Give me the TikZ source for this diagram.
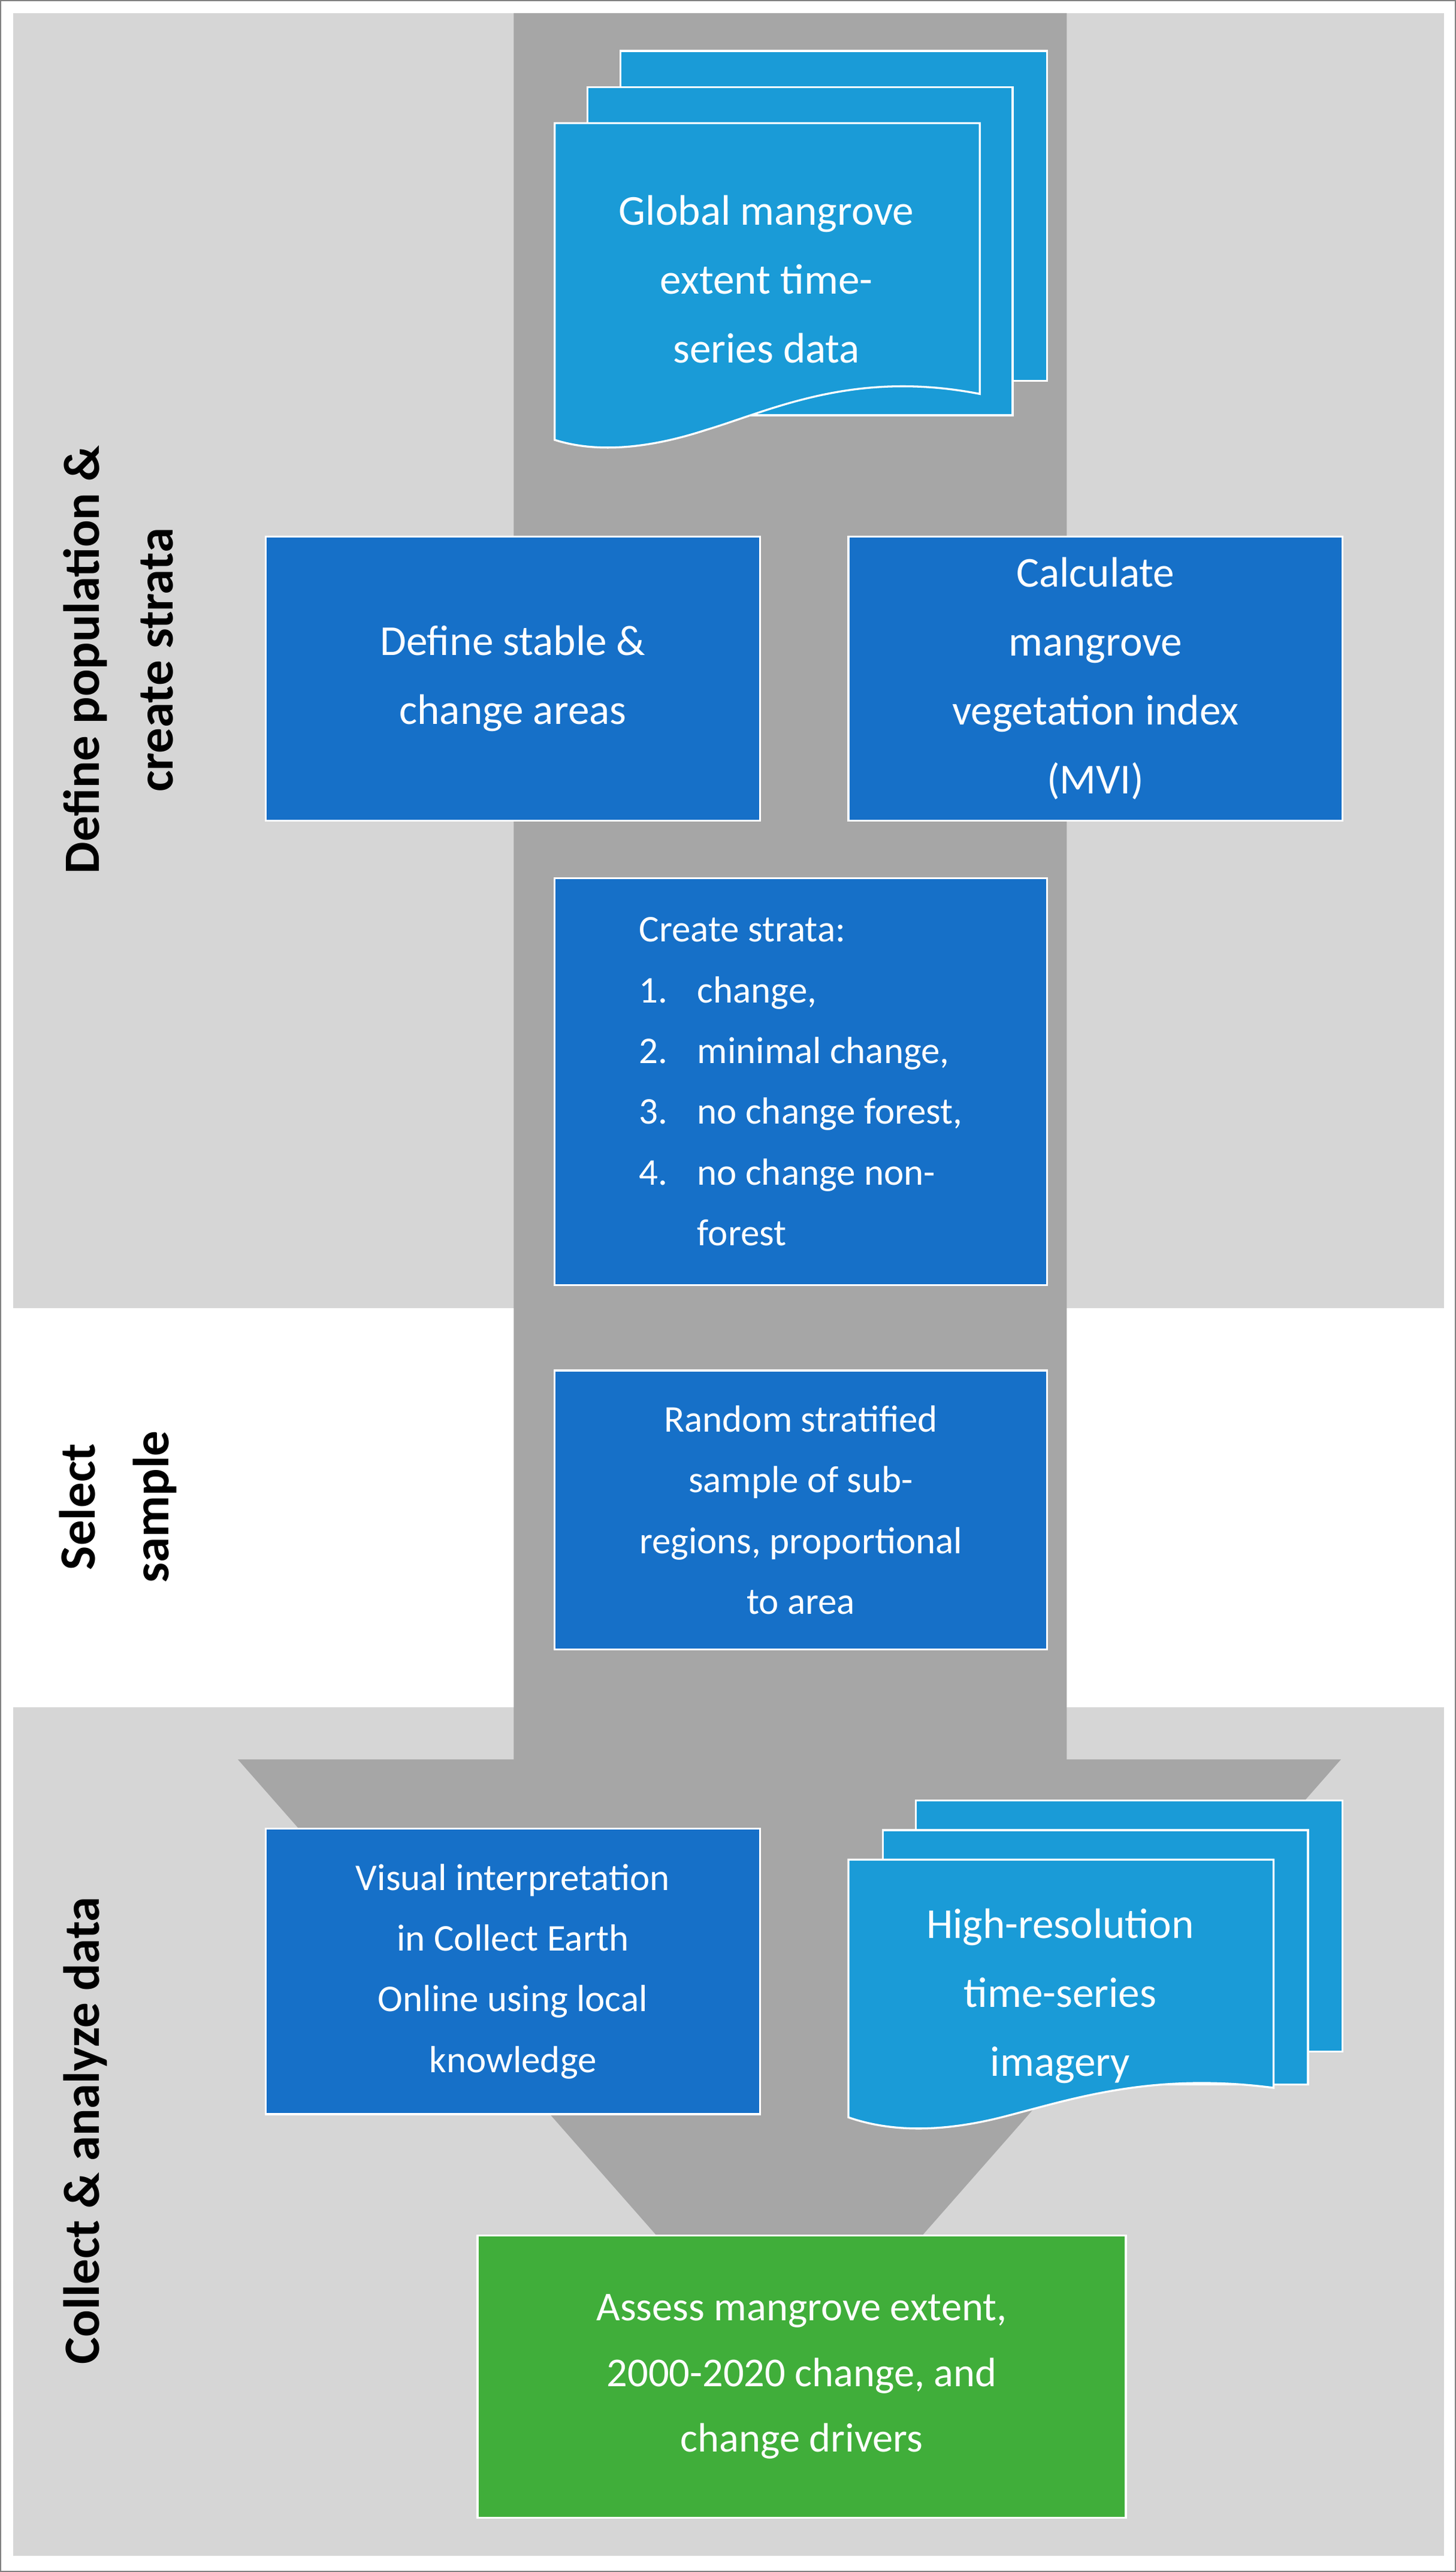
\documentclass[tikz,border=0pt]{standalone}
\usepackage{fontspec}
\setmainfont{Carlito}
\definecolor{bandgray}{HTML}{D6D6D6}
\definecolor{arrowgray}{HTML}{A6A6A6}
\definecolor{dblue}{HTML}{1670C8}
\definecolor{lblue}{HTML}{1A9BD7}
\definecolor{mgreen}{HTML}{40AE3A}
\begin{document}
\begin{tikzpicture}[x=1pt,y=-1pt,
  box/.style={draw=white,line width=1.2pt,fill=dblue,text=white,align=center,inner sep=0pt},
  doc/.style={draw=white,line width=1.2pt,fill=lblue},
  side/.style={rotate=90,font=\fontsize{31}{45}\selectfont\bfseries,align=center},
  btxt/.style={text=white,align=center,font=\fontsize{26}{42}\selectfont}]
\useasboundingbox (0,0) rectangle (887,1567);
\fill[white] (0,0) rectangle (887,1567);
\fill[bandgray] (8,8) rectangle (880,797);
\fill[bandgray] (8,1040) rectangle (880,1557);
% big arrow
\fill[arrowgray] (313,8) -- (650,8) -- (650,1072) -- (817,1072) -- (481,1454) -- (145,1072) -- (313,1072) -- cycle;
% top document stack
\draw[doc] (378,31) rectangle (638,232);
\draw[doc] (358,53) rectangle (617,253);
\draw[doc] (338,75) -- (597,75) -- (597,240) .. controls (520,225) and (470,250) .. (430,262) .. controls (390,275) and (360,275) .. (338,268) -- cycle;
\node[btxt] (gm) at (467,170) {Global mangrove\\extent time-\\series data};
% boxes
\node[box,minimum width=301,minimum height=173,font=\fontsize{26}{42}\selectfont] (def) at (312.5,413.5) {Define stable \&\\change areas};
\node[box,minimum width=301,minimum height=173,font=\fontsize{26}{42}\selectfont] (mvi) at (667.5,413.5) {Calculate\\mangrove\\vegetation index\\(MVI)};
\node[box,minimum width=300,minimum height=248,font=\fontsize{23}{37}\selectfont,align=left] (str) at (488,659)
{\begin{tabular}{@{}l@{\hspace{18pt}}l@{}}
\multicolumn{2}{@{}l}{Create strata:}\\
1.&change,\\
2.&minimal change,\\
3.&no change forest,\\
4.&no change non-\\
&forest
\end{tabular}};
\node[box,minimum width=300,minimum height=170,font=\fontsize{23}{37}\selectfont] (rnd) at (488,920) {Random stratified\\sample of sub-\\regions, proportional\\to area};
\node[box,minimum width=301,minimum height=174,font=\fontsize{23}{37}\selectfont] (vis) at (312.5,1201) {Visual interpretation\\in Collect Earth\\Online using local\\knowledge};
% high-res doc stack
\draw[doc] (558,1097) rectangle (818,1250);
\draw[doc] (538,1115) rectangle (797,1270);
\draw[doc] (517,1133) -- (776,1133) -- (776,1272) .. controls (700,1262) and (650,1280) .. (610,1290) .. controls (570,1300) and (540,1298) .. (517,1290) -- cycle;
\node[btxt] (hr) at (646,1216) {High-resolution\\time-series\\imagery};
\node[box,fill=mgreen,minimum width=395,minimum height=172,font=\fontsize{25}{40}\selectfont] (grn) at (488.5,1448) {Assess mangrove extent,\\2000-2020 change, and\\change drivers};
% side labels
\node[side] (l1) at (72,402) {Define population \&\\create strata};
\node[side] (l2) at (72,918) {Select\\sample};
\node[side] (l3) at (52,1298) {Collect \& analyze data};
\draw[gray,line width=0.6pt] (0.3,0.3) rectangle (886.7,1566.7);
\end{tikzpicture}
\end{document}
